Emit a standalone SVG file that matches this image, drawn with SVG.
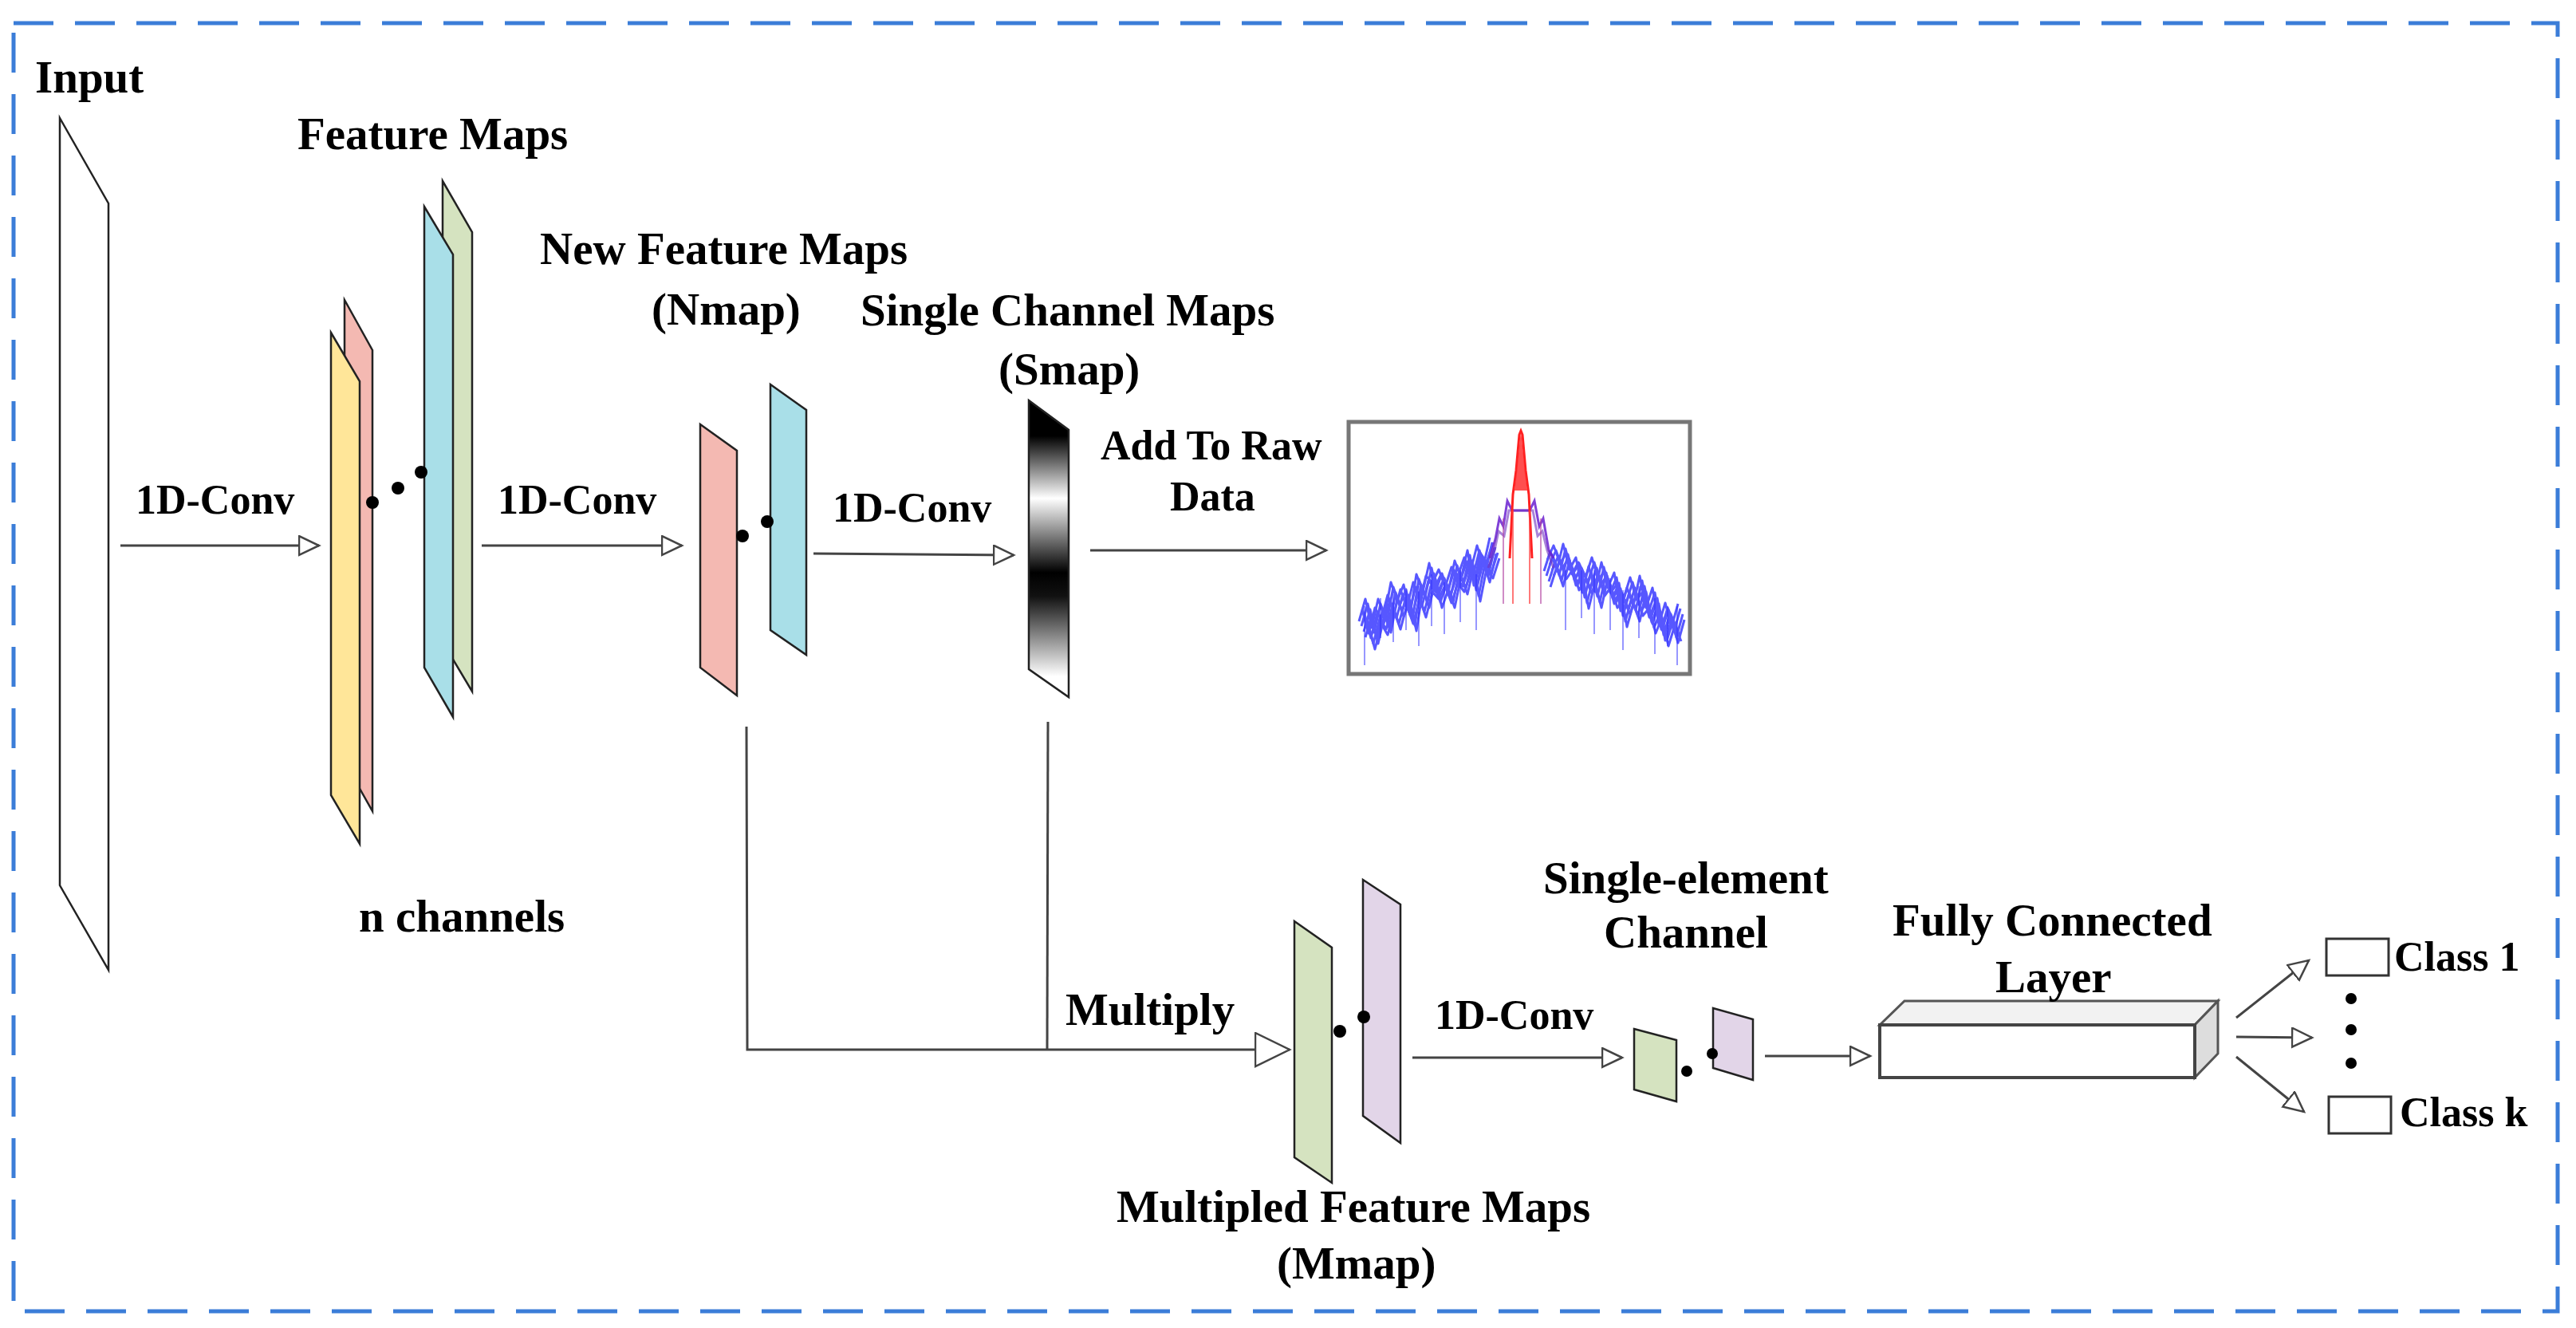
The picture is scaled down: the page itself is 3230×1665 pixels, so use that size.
<svg xmlns="http://www.w3.org/2000/svg" width="3230" height="1665" viewBox="0 0 3230 1665">
<style>
text{font-family:"Liberation Serif","Times New Roman",serif;font-weight:bold;font-size:57px;fill:#000}
.sm{font-size:52px}
.p{stroke:#222;stroke-width:2.5;stroke-linejoin:miter}
.c{stroke:#444;stroke-width:3;fill:none}
.dot{fill:#000}
</style>
<defs>
<marker id="a" markerUnits="userSpaceOnUse" markerWidth="30" markerHeight="30" refX="26" refY="13" orient="auto" viewBox="0 0 30 30">
<path d="M1,1 L26,13 L1,25 Z" fill="#fff" stroke="#444" stroke-width="2.5"/>
</marker>
<marker id="b" markerUnits="userSpaceOnUse" markerWidth="50" markerHeight="50" refX="44" refY="22" orient="auto" viewBox="0 0 50 50">
<path d="M1,1 L44,22 L1,43 Z" fill="#fff" stroke="#444" stroke-width="2.5"/>
</marker>
<linearGradient id="g" x1="0" y1="0" x2="0" y2="1">
<stop offset="0" stop-color="#000"/><stop offset="0.12" stop-color="#000"/>
<stop offset="0.33" stop-color="#fff"/><stop offset="0.58" stop-color="#000"/>
<stop offset="0.66" stop-color="#111"/><stop offset="0.93" stop-color="#fff"/><stop offset="1" stop-color="#fff"/>
</linearGradient>
<g id="noise" fill="none" stroke-linejoin="round">
<polyline points="1707,785 1715,757 1723,793 1731,757 1739,779 1747,736 1755,759 1763,739 1771,777 1779,726 1787,748 1795,712 1803,748 1811,725 1819,748 1827,709 1835,731 1843,696 1851,740 1859,699 1867,711 1875,686"/>
<polyline points="2107,763 2099,792 2091,762 2083,789 2075,743 2067,768 2059,728 2051,765 2043,743 2035,772 2027,724 2019,743 2011,711 2003,748 1995,716 1987,749 1979,705 1971,720 1963,688 1955,721 1947,697 1939,722"/>
<polyline points="1711,770 1719,800 1727,768 1735,782 1743,752 1751,775 1759,745 1767,768 1775,736 1783,760 1791,728 1799,737 1807,720 1815,742 1823,717 1831,728 1839,705 1847,722 1855,690 1863,716 1871,680"/>
<polyline points="2103,790 2095,770 2087,796 2079,760 2071,780 2063,748 2055,758 2047,730 2039,756 2031,738 2023,748 2015,722 2007,733 1999,705 1991,730 1983,712 1975,726 1967,700 1959,712 1951,690 1943,708"/>
</g>
</defs>
<rect x="17" y="29" width="3190" height="1615" fill="none" stroke="#3b7dd8" stroke-width="5" stroke-dasharray="50 27"/>

<g id="input">
<text x="44" y="116">Input</text>
<polygon class="p" fill="#fff" points="75,148 136,255 136,1216 75,1110"/>
</g>

<g id="feature-maps">
<text x="373" y="187">Feature Maps</text>
<polygon class="p" fill="#F4B9B2" points="432,376 467,439 467,1017 432,955"/>
<polygon class="p" fill="#FFE699" points="415,417 451,478 451,1058 415,997"/>
<polygon class="p" fill="#D5E3C0" points="555,227 592,291 592,867 555,805"/>
<polygon class="p" fill="#A9DFE8" points="532,259 568,319 568,899 532,837"/>
<circle class="dot" cx="467" cy="630" r="8"/><circle class="dot" cx="499" cy="612" r="8"/><circle class="dot" cx="528" cy="592" r="8"/>
<text x="450" y="1168">n channels</text>
</g>

<g id="nmap">
<text x="677" y="331">New Feature Maps</text>
<text x="817" y="407">(Nmap)</text>
<polygon class="p" fill="#F4B9B2" points="878,532 924,565 924,872 878,837"/>
<polygon class="p" fill="#A9DFE8" points="966,482 1011,514 1011,821 966,790"/>
<circle class="dot" cx="931" cy="672" r="8"/><circle class="dot" cx="962" cy="654" r="8"/>
</g>

<g id="smap">
<text x="1079" y="408">Single Channel Maps</text>
<text x="1252" y="482">(Smap)</text>
<polygon class="p" fill="url(#g)" points="1290,502 1340,539 1340,874 1290,839"/>
</g>

<g id="raw-data">
<rect x="1691" y="529" width="428" height="316" fill="#fff" stroke="#777" stroke-width="5"/>
<g stroke="#2020ff" stroke-width="3" opacity="0.75">
<use href="#noise"/>
<use href="#noise" transform="translate(3,7)"/>
<use href="#noise" transform="translate(-3,-6)"/>
<use href="#noise" transform="translate(5,14)"/>
</g>
<path fill="none" stroke="#3030ff" opacity="0.5" stroke-width="2" d="M1711,760V834 M1731,750V800 M1747,745V805 M1763,740V790 M1779,735V810 M1795,720V785 M1811,730V795 M1831,715V780 M1851,720V790 M1963,715V790 M1983,715V775 M1999,715V795 M2019,725V790 M2035,740V815 M2055,735V800 M2075,750V820 M2091,760V810 M2103,760V834"/>
<g fill="none" stroke-width="3">
<polyline stroke="#6a20d0" opacity="0.85" points="1868,700 1875,676 1880,650 1885,660 1890,628 1896,640 1918,640 1924,628 1930,660 1935,650 1942,690 1948,700"/>
<polyline stroke="#7030c0" opacity="0.6" points="1866,712 1874,690 1879,666 1886,672 1892,640 1922,640 1928,672 1934,666 1940,690 1948,712"/>
</g>
<path fill="none" stroke="#b040a0" stroke-width="2" opacity="0.6" d="M1885,650V757 M1932,650V757"/>
<polyline fill="none" stroke="#ff2020" stroke-width="3" points="1893,700 1897,620 1901,590 1905,545 1907,540 1909,545 1913,590 1917,620 1921,700"/>
<path fill="#ff3030" opacity="0.85" d="M1899,615 L1907,540 L1915,615 Z"/>
<path fill="none" stroke="#ff4040" stroke-width="2" opacity="0.7" d="M1897,640V757 M1918,640V757"/>
</g>

<g id="mmap">
<text x="1336" y="1285">Multiply</text>
<polygon class="p" fill="#D5E3C0" points="1623,1155 1670,1188 1670,1483 1623,1451"/>
<polygon class="p" fill="#E2D5E8" points="1709,1103 1756,1134 1756,1433 1709,1399"/>
<circle class="dot" cx="1680" cy="1293" r="8"/><circle class="dot" cx="1710" cy="1275" r="8"/>
<text x="1400" y="1532">Multipled Feature Maps</text>
<text x="1601" y="1603">(Mmap)</text>
</g>

<g id="single-element">
<text x="1935" y="1120">Single-element</text>
<text x="2011" y="1188">Channel</text>
<polygon class="p" fill="#D5E3C0" points="2049,1290 2102,1304 2102,1381 2049,1366"/>
<polygon class="p" fill="#E2D5E8" points="2148,1264 2198,1278 2198,1354 2148,1339"/>
<circle class="dot" cx="2115" cy="1343" r="7"/><circle class="dot" cx="2147" cy="1321" r="7"/>
</g>

<g id="fc">
<text x="2373" y="1173">Fully Connected</text>
<polygon points="2357,1285 2388,1255 2781,1255 2752,1285" fill="#f2f2f2" stroke="#555" stroke-width="3"/>
<polygon points="2752,1285 2781,1255 2781,1321 2752,1351" fill="#ddd" stroke="#555" stroke-width="3"/>
<rect x="2357" y="1285" width="395" height="66" fill="#fff" stroke="#444" stroke-width="4"/>
<text x="2502" y="1244">Layer</text>
</g>

<g id="classes">
<rect x="2917" y="1177" width="78" height="46" fill="#fff" stroke="#333" stroke-width="3"/>
<text x="3002" y="1217" class="sm">Class 1</text>
<circle class="dot" cx="2948" cy="1252" r="7"/><circle class="dot" cx="2948" cy="1291" r="7"/><circle class="dot" cx="2948" cy="1333" r="7"/>
<rect x="2920" y="1375" width="78" height="46" fill="#fff" stroke="#333" stroke-width="3"/>
<text x="3009" y="1412" class="sm">Class k</text>
</g>

<g id="connectors">
<line class="c" x1="151" y1="684" x2="400" y2="684" marker-end="url(#a)"/>
<text x="170" y="644" class="sm">1D-Conv</text>
<line class="c" x1="604" y1="684" x2="855" y2="684" marker-end="url(#a)"/>
<text x="624" y="644" class="sm">1D-Conv</text>
<line class="c" x1="1020" y1="694" x2="1271" y2="696" marker-end="url(#a)"/>
<text x="1044" y="654" class="sm">1D-Conv</text>
<line class="c" x1="1367" y1="690" x2="1663" y2="690" marker-end="url(#a)"/>
<text x="1380" y="576" class="sm">Add To Raw</text>
<text x="1467" y="640" class="sm">Data</text>
<polyline class="c" points="936,911 937,1316 1617,1316" marker-end="url(#b)"/>
<line class="c" x1="1314" y1="905" x2="1313" y2="1316"/>
<line class="c" x1="1771" y1="1326" x2="2034" y2="1326" marker-end="url(#a)"/>
<text x="1799" y="1290" class="sm">1D-Conv</text>
<line class="c" x1="2213" y1="1324" x2="2345" y2="1324" marker-end="url(#a)"/>
<line class="c" x1="2804" y1="1276" x2="2895" y2="1204" marker-end="url(#a)"/>
<line class="c" x1="2804" y1="1300" x2="2899" y2="1301" marker-end="url(#a)"/>
<line class="c" x1="2804" y1="1325" x2="2889" y2="1394" marker-end="url(#a)"/>
</g>
</svg>
